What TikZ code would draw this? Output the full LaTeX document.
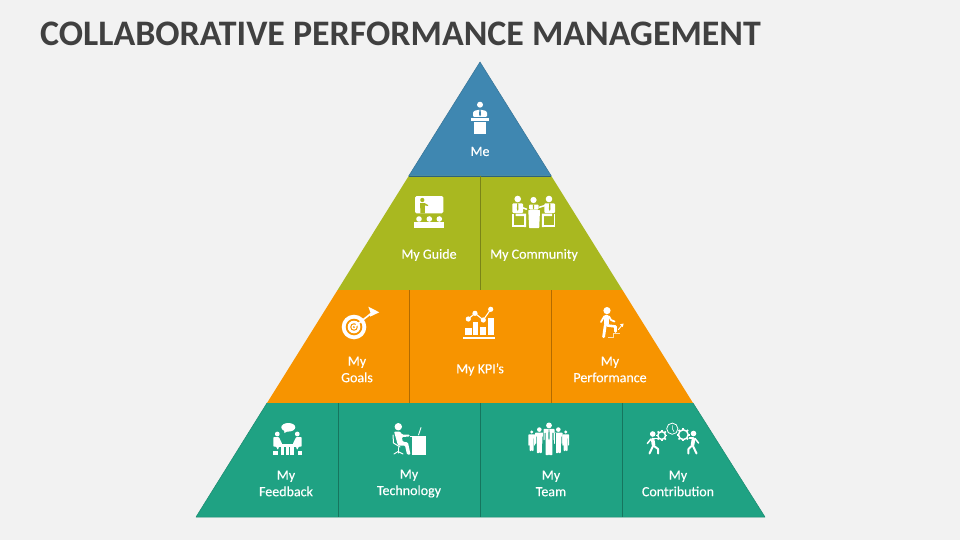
\documentclass[tikz,border=0pt]{standalone}
\usepackage{fontspec}
\setmainfont{Carlito}
\newfontface\labf[FakeBold=0.2]{Carlito}
\usetikzlibrary{calc}
\definecolor{bgc}{HTML}{F2F2F2}
\definecolor{titlec}{HTML}{404040}
\definecolor{bluec}{HTML}{3F87B1}
\definecolor{greenc}{HTML}{A9B820}
\definecolor{orangec}{HTML}{F79400}
\definecolor{tealc}{HTML}{1FA283}
\tikzset{
  seg/.style={fill=#1},
  rimline/.style={draw=#1!85!black,line width=0.5pt,line join=round},
  divline/.style={draw=#1!72!black,line width=0.7pt},
  lab/.style={text=white,align=center,inner sep=0pt,font=\fontsize{14}{16.5}\selectfont\labf},
  ttl/.style={text=titlec,anchor=base west,inner sep=0pt,font=\fontsize{35.9}{40}\selectfont\bfseries},
  ic/.style={fill=white,draw=none},
  wl/.style={draw=white,line width=#1,line cap=round,line join=round},
  wl/.default=1.5pt
}
\newcommand{\mygear}[3]{% x y r
  \draw[white,line width=1.5pt] (#1,#2) circle (#3);
  \foreach \a in {0,45,...,315}{\draw[white,line width=1.7pt] ($(#1,#2)+(\a:#3)$) -- ($(#1,#2)+(\a:#3+1.8)$);}
}
\newcommand{\teamp}[5]{% x headY r halfwidth feetY
  \fill[white] (#1,#2) circle (#3);
  \fill[white,rounded corners=0.7pt] ({#1-#4},{#2+#3+0.6}) -- ({#1+#4},{#2+#3+0.6}) -- ({#1+#4},{#2+#3+12}) -- ({#1+#4-1},{#2+#3+12}) -- ({#1+#4-1},{#2+#3+4}) -- ({#1+0.6*#4},{#2+#3+4}) -- ({#1+0.6*#4},#5) -- ({#1+0.1},#5) -- ({#1+0.1},{#2+#3+14}) -- ({#1-0.1},{#2+#3+14}) -- ({#1-0.1},#5) -- ({#1-0.6*#4},#5) -- ({#1-0.6*#4},{#2+#3+4}) -- ({#1-#4+1},{#2+#3+4}) -- ({#1-#4+1},{#2+#3+12}) -- ({#1-#4},{#2+#3+12}) -- cycle;
}
\begin{document}
\begin{tikzpicture}[x=1pt,y=-1pt]
\useasboundingbox[fill=bgc] (0,0) rectangle (960,540);
\node[ttl] (title) at (40,46) {COLLABORATIVE PERFORMANCE MANAGEMENT};
% pyramid bands
\fill[seg=bluec] (480,62) -- (551.3,176) -- (408.7,176) -- cycle;
\fill[seg=greenc] (408.7,176) -- (551.3,176) -- (622.4,290) -- (337.6,290) -- cycle;
\fill[seg=orangec] (337.6,290) -- (622.4,290) -- (693,403) -- (267,403) -- cycle;
\fill[seg=tealc] (267,403) -- (693,403) -- (765,517) -- (196,517) -- cycle;
% rims
\draw[rimline=bluec] (408.7,176) -- (480,62) -- (551.3,176);
\draw[divline=bluec] (408.7,176) -- (551.3,176);
\draw[rimline=tealc] (267,403) -- (196,517) -- (765,517) -- (693,403);
% dividers
\draw[divline=greenc] (480.4,176) -- (480.4,290);
\draw[divline=orangec] (409.5,290) -- (409.5,403);
\draw[divline=orangec] (551.5,290) -- (551.5,403);
\draw[divline=tealc] (338,403) -- (338,517);
\draw[divline=tealc] (480.4,403) -- (480.4,517);
\draw[divline=tealc] (622.5,403) -- (622.5,517);
% labels
\node[lab] (me) at (480,151.5) {Me};
\node[lab] (guide) at (429,255) {My Guide};
\node[lab] (community) at (534,255) {My Community};
\node[lab] (goals) at (357,369.5) {My\\Goals};
\node[lab] (kpi) at (480,369.5) {My KPI’s};
\node[lab] (perf) at (610,369.5) {My\\Performance};
\node[lab] (feedback) at (286,483.5) {My\\Feedback};
\node[lab] (tech) at (409,483.5) {My\\Technology};
\node[lab] (team) at (551,483.5) {My\\Team};
\node[lab] (contrib) at (678,483.5) {My\\Contribution};
% icon: Me
\fill[ic] (480,104.7) circle (3);
\fill[ic,rounded corners=1.2pt] (473,117) -- (473,111.5) -- (477,110) -- (483,110) -- (487,111.5) -- (487,117) -- cycle;
\fill[bluec] (479.4,110) -- (480.6,110) -- (481,114.5) -- (480,116.5) -- (479,114.5) -- cycle;
\fill[ic] (471,118) rectangle (489,121);
\fill[ic] (474,122) rectangle (486,134);
% icon: Guide
\fill[ic,rounded corners=1.5pt] (415,196) rectangle (443.3,213.3);
\fill[greenc] (422.3,200) circle (2.1);
\fill[greenc] (420,203) -- (424.5,203) -- (428,205) -- (428,206) -- (424.8,205.4) -- (424.8,213.3) -- (420.5,213.3) -- cycle;
\foreach \x in {419,429.3,439.3}{\fill[ic] (\x,219) circle (2.8);}
\fill[ic] (414,222.3) rectangle (444,227.7);
% icon: Community
\fill[ic] (517.7,199) circle (3.3);
\fill[ic] (533.5,200) circle (3.1);
\fill[ic] (549,199) circle (3.3);
\fill[ic,rounded corners=1pt] (512.3,203.3) rectangle (523,213);
\fill[ic,rounded corners=1pt] (544.3,203.3) rectangle (555,213);
\fill[ic,rounded corners=1pt] (529,204.5) rectangle (538.5,209.5);
\fill[greenc] (517.2,203.3) -- (518.2,203.3) -- (518.5,209) -- (517.7,211) -- (516.9,209) -- cycle;
\fill[greenc] (549.2,203.3) -- (550.2,203.3) -- (550.5,209) -- (549.7,211) -- (548.9,209) -- cycle;
\fill[greenc] (533,204.5) -- (534,204.5) -- (534.2,208) -- (533.5,209.5) -- (532.8,208) -- cycle;
\fill[ic,rounded corners=0.5pt] (528.3,210) -- (540,210) -- (539.2,228) -- (529.1,228) -- cycle;
\draw[wl=1.5pt] (522,207.5) -- (526.5,209.2);
\draw[wl=1.5pt] (545,205.5) -- (539.5,207.2);
\fill[ic] (512.3,213.5) rectangle (514,227);
\fill[ic] (512.3,225.3) rectangle (524.5,227);
\fill[ic] (515.5,213.5) -- (526,213.5) -- (526,227) -- (524,227) -- (524,216) -- (515.5,216) -- cycle;
\fill[ic] (553.5,213.5) rectangle (555.2,227);
\fill[ic] (543.3,225.3) rectangle (555.2,227);
\fill[ic] (552,213.5) -- (541.8,213.5) -- (541.8,227) -- (543.8,227) -- (543.8,216) -- (552,216) -- cycle;
% icon: Goals
\fill[ic] (354,327) circle (12.3);
\fill[orangec] (354,327) circle (8.3);
\fill[ic] (354,327) circle (6.3);
\fill[orangec] (354,327) circle (3.8);
\fill[ic] (354,327) circle (2.6);
\fill[orangec] (354,327) circle (1.2);
\draw[wl=1.6pt] (355,326.2) -- (371,313.5);
\fill[ic] (368.3,306.7) -- (379.3,312.3) -- (370,316.7) -- (370.5,312.5) -- cycle;
% icon: KPI
\fill[ic] (465,328) rectangle (471.7,335);
\fill[ic] (473.3,321.5) rectangle (477.5,335);
\fill[ic] (479.5,326.5) rectangle (486,335);
\fill[ic] (488,317.5) rectangle (493.5,335);
\fill[ic] (463.3,336.7) rectangle (495,338.7);
\draw[wl=1.1pt] (468.3,319) -- (475,313.3) -- (483.3,320) -- (490.7,309.3);
\foreach \p in {(468.3,319),(475,313.3),(483.3,320),(490.7,309.3)}{\fill[ic] \p circle (2.6);}
% icon: Performance
\fill[ic] (607,310.6) circle (3.6);
\draw[wl=4.6pt] (606.5,317) -- (606.5,323.5);
\draw[wl=1.8pt] (604.3,316.3) -- (601,322);
\draw[wl=1.8pt] (609,316.5) -- (611,320) -- (614.5,321.5);
\draw[wl=2.8pt] (605.3,325) -- (603.6,336.8);
\draw[wl=2.6pt] (607.5,325.5) -- (615.5,326.5) -- (615.5,331.5);
\draw[white!70!orangec,line width=1pt] (608,337.5) -- (613.8,337.5) -- (613.8,333) -- (619.5,333);
\draw[wl=0.9pt] (618.5,329.5) -- (621.5,325.8);
\fill[ic] (620,324.3) -- (623.7,323.5) -- (622.7,327) -- cycle;
% icon: Feedback
\fill[ic] (288.3,427.3) ellipse (7 and 4.3);
\fill[ic] (284,430) -- (288,431) -- (284.5,433) -- cycle;
\fill[ic] (277.3,434) circle (2.4);
\fill[ic] (297.3,434) circle (2.4);
\fill[ic,rounded corners=0.7pt] (273.3,437.2) -- (279,437.2) -- (282,443.5) -- (282,446.7) -- (279,446.7) -- (277.8,450) -- (276.3,446.7) -- (273.3,446.7) -- cycle;
\fill[ic,rounded corners=0.7pt] (301.7,437.2) -- (296,437.2) -- (293,443.5) -- (293,446.7) -- (296,446.7) -- (297.2,450) -- (298.7,446.7) -- (301.7,446.7) -- cycle;
\fill[ic] (279,444.3) rectangle (296,446.7);
\fill[ic] (280.7,446.7) rectangle (284,454.5);
\fill[ic] (285.7,446.7) rectangle (289,454.5);
\fill[ic] (290.2,446.7) rectangle (293.5,454.5);
\fill[ic] (273.3,450.8) rectangle (277.5,454.5);
\fill[ic] (297.5,450.8) rectangle (302,454.5);
% icon: Technology
\fill[ic] (398.3,426.7) circle (3.7);
\fill[ic,rounded corners=1pt] (394,431.5) -- (400,431.5) -- (402,434.5) -- (409.5,434.5) -- (409.5,436.5) -- (402,437) -- (402.5,441.5) -- (408,442.5) -- (410.5,454.5) -- (407,454.5) -- (405,445.5) -- (398,445.5) -- cycle;
\draw[wl=1pt] (393,435) -- (393.5,443) -- (400,447);
\draw[wl=1pt] (398,447.5) -- (398,453);
\draw[wl=0.9pt] (394,454) -- (398,451.5) -- (403,454);
\fill[ic] (411.7,436) rectangle (425.7,455);
\fill[ic] (410,435.5) rectangle (426,437);
\draw[wl=0.9pt] (418.5,435) -- (421,427.5);
% icon: Team
\teamp{531.7}{432}{1.7}{3.3}{451}
\teamp{565.7}{432}{1.7}{3.3}{451}
\teamp{539.3}{429.6}{2.3}{4.2}{453}
\teamp{558.3}{429.6}{2.3}{4.2}{453}
\draw[tealc,line width=0.5pt] (543.2,433) -- (543.2,454);
\draw[tealc,line width=0.5pt] (554.8,433) -- (554.8,454);
\teamp{549}{425.4}{2.9}{5.5}{455.2}
\fill[tealc] (548.6,429.3) -- (549.4,429.3) -- (549.7,438) -- (549,440) -- (548.3,438) -- cycle;
% icon: Contribution
\fill[ic] (652.7,434) circle (2.8);
\draw[wl=3.6pt] (652.7,439.5) -- (653.5,445);
\draw[wl=1.5pt] (653,438.5) -- (657.5,438.5);
\draw[wl=1.5pt] (651,439) -- (647.3,443.5);
\draw[wl=2pt] (653,446) -- (649.5,453.5);
\draw[wl=2pt] (654,446) -- (658,449) -- (658,453.5);
\mygear{661.7}{435.5}{3.9}
\draw[white,line width=0.8pt] (672.3,428.7) circle (5.6);
\draw[white,line width=0.6pt] (672.3,425.3) -- (672.3,428.7) -- (674,431.6);
\mygear{683.3}{434.7}{4.9}
\fill[ic] (693.5,433.5) circle (2.8);
\draw[wl=3.6pt] (693.5,439) -- (692.5,445);
\draw[wl=1.5pt] (693,438) -- (689.5,438);
\draw[wl=1.5pt] (695,438.5) -- (698.5,443);
\draw[wl=2pt] (693,446) -- (696.5,453.5);
\draw[wl=2pt] (691.5,446) -- (688.5,449) -- (688.3,453.5);
\end{tikzpicture}
\end{document}
